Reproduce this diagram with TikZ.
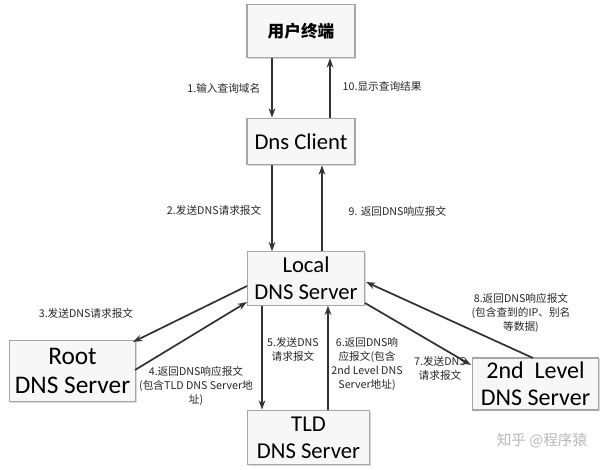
\documentclass[tikz,border=0pt]{standalone}
\usepackage{fontspec}
\setmainfont{Carlito}
\newfontfamily\cjk{Noto Sans CJK SC}
\usetikzlibrary{arrows.meta,shadows}
\begin{document}
\begin{tikzpicture}[x=0.75pt,y=-0.75pt,
  box/.style={draw=gray!70,fill=gray!6,line width=0.8pt,drop shadow={shadow xshift=1pt,shadow yshift=-1pt,opacity=0.3},inner sep=0pt,align=center,font=\fontsize{17}{20}\selectfont},
  ar/.style={-{Stealth[length=7pt,width=5pt]},line width=1.3pt,draw=black!80},
  lb/.style={font=\cjk\fontsize{8}{10.5}\selectfont,align=center,text=black!85}]
\useasboundingbox (0,0) rectangle (600,470);
\node[box,minimum width=81pt,minimum height=40pt,font=\cjk\bfseries\fontsize{12.5}{14}\selectfont] (user) at (301,31) {用户终端};
\node[box,minimum width=81pt,minimum height=35pt] (client) at (301,141.5) {Dns Client};
\node[box,minimum width=88pt,minimum height=40pt] (local) at (306,278.5) {Local\\DNS Server};
\node[box,minimum width=94pt,minimum height=46pt,font=\fontsize{19}{22}\selectfont] (root) at (72.5,371) {Root\\DNS Server};
\node[box,minimum width=92pt,minimum height=41pt] (tld) at (308.5,437.5) {TLD\\DNS Server};
\node[box,minimum width=94pt,minimum height=39pt,font=\fontsize{18}{20}\selectfont] (sec) at (535.5,384) {2nd~~Level\\DNS Server};
\coordinate (a1) at (272,58);
\draw[ar] (user.south -| a1) -- (client.north -| a1);
\coordinate (a10) at (330,0);
\draw[ar] (client.north -| a10) -- (user.south -| a10);
\draw[ar] (client.south -| a1) -- (local.north -| a1);
\coordinate (a9) at (322,0);
\draw[ar] (local.north -| a9) -- (client.south -| a9);
\coordinate (l3) at (247,286); \coordinate (r3) at (133,342);
\draw[ar] (l3) -- (r3);
\coordinate (r4) at (135,370); \coordinate (l4) at (247,302);
\draw[ar] (r4) -- (l4);
\coordinate (a5) at (262,0);
\draw[ar] (local.south -| a5) -- (tld.north -| a5);
\coordinate (a6) at (328,0);
\draw[ar] (tld.north -| a6) -- (local.south -| a6);
\coordinate (l7) at (365,303); \coordinate (s7) at (471,365);
\draw[ar] (l7) -- (s7);
\coordinate (s8) at (533,358); \coordinate (l8) at (366,282);
\draw[ar] (s8) -- (l8);
\node[lb,anchor=east] (t1) at (265,88) {1.输入查询域名};
\node[lb,anchor=west] (t10) at (338,86) {10.显示查询结果};
\node[lb,anchor=east] (t2) at (266,210) {2.发送DNS请求报文};
\node[lb,anchor=west] (t9) at (344,211) {9. 返回DNS响应报文};
\node[lb] (t3) at (86,313) {3.发送DNS请求报文};
\node[lb,anchor=north] (t4) at (196,362) {4.返回DNS响应报文\\(包含TLD DNS Server地\\址)};
\node[lb,anchor=north] (t5) at (293,333) {5.发送DNS\\请求报文};
\node[lb,anchor=north] (t6) at (367,333) {6.返回DNS响\\应报文(包含\\2nd Level DNS\\Server地址)};
\node[lb,anchor=north] (t7) at (440,352) {7.发送DNS\\请求报文};
\node[lb,anchor=north] (t8) at (521,289) {8.返回DNS响应报文\\(包含查到的IP、别名\\等数据)};
\node[font=\cjk\fontsize{11}{13}\selectfont,text=gray!55] (wm) at (542,441) {知乎 @程序猿};
\end{tikzpicture}
\end{document}
